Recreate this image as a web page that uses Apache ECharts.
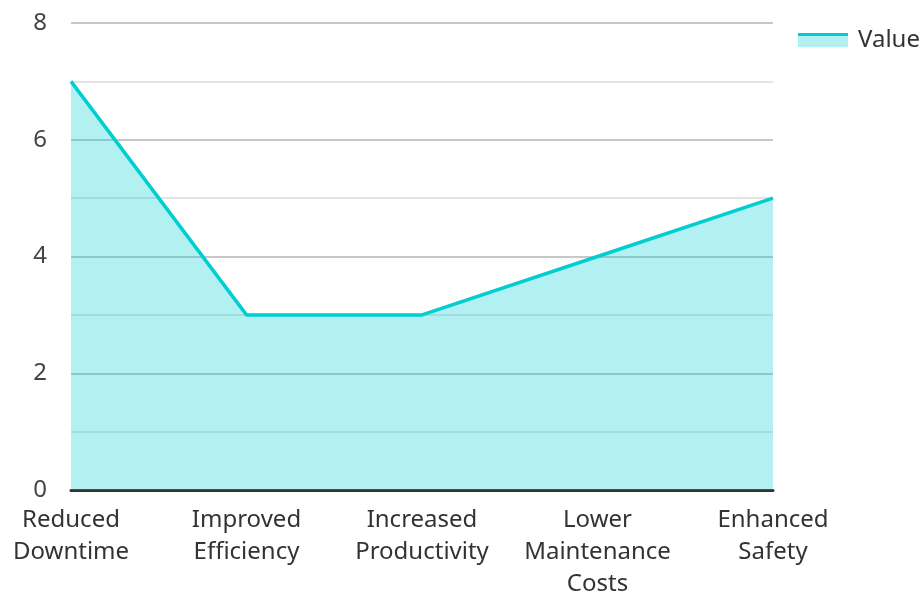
<!DOCTYPE html>
<html>
<head>
<meta charset="utf-8">
<script src="https://cdn.jsdelivr.net/npm/echarts@6/dist/echarts.min.js"></script>
<style>
  html, body { margin: 0; padding: 0; background: #fff; }
  #chart { width: 923px; height: 594px; }
</style>
</head>
<body>
<div id="chart"></div>
<script>
// categories and values
var categories = ['Reduced Downtime', 'Improved Efficiency', 'Increased Productivity', 'Lower Maintenance Costs', 'Enhanced Safety'];
var tickLabels = ['Reduced\nDowntime', 'Improved\nEfficiency', 'Increased\nProductivity', 'Lower\nMaintenance\nCosts', 'Enhanced\nSafety'];
var values = [7, 3, 3, 4, 5];
var yTicks = [0, 2, 4, 6, 8];

var lineColor = '#00CED1';
var font = 'Noto Sans';

var myChart = echarts.init(document.getElementById('chart'));
var option = {
    textStyle: { fontFamily: font },
    grid: { left: 71, right: 150, top: 23, bottom: 104, outerBoundsMode: 'none', containLabel: false },
    legend: {
        data: ['Value'],
        left: 793,
        top: 23,
        icon: 'rect',
        itemWidth: 50,
        itemHeight: 14,
        itemGap: 8,
        itemStyle: {
            // line on top, area fill under it
            color: new echarts.graphic.LinearGradient(0, 0, 0, 1, [
                { offset: 0, color: lineColor },
                { offset: 0.25, color: lineColor },
                { offset: 0.25, color: '#b2f0f1' },
                { offset: 1, color: '#b2f0f1' }
            ])
        },
        textStyle: { fontFamily: font, fontSize: 24, color: '#333', padding: [0, 0, 4, 5] }
    },
    xAxis: {
        type: 'category',
        data: categories,
        boundaryGap: false,
        axisLine: { lineStyle: { color: '#333', width: 3 } },
        axisTick: { show: false },
        axisLabel: {
            interval: 0,
            margin: 14,
            fontFamily: font,
            fontSize: 24,
            lineHeight: 32,
            color: '#333',
            formatter: function (v, i) { return tickLabels[i]; }
        }
    },
    yAxis: {
        type: 'value',
        min: 0,
        max: 8,
        interval: 1,
        axisLine: { show: false },
        axisTick: { show: false },
        axisLabel: {
            margin: 24,
            fontFamily: font,
            fontSize: 24,
            color: '#444',
            formatter: function (v) { return yTicks.indexOf(v) >= 0 ? String(v) : ''; }
        },
        splitLine: {
            lineStyle: { color: ['#c8c8c8', '#e4e4e4'], width: 2 }
        }
    },
    series: [{
        name: 'Value',
        type: 'line',
        data: values,
        symbol: 'none',
        lineStyle: { color: lineColor, width: 3.5 },
        itemStyle: { color: lineColor },
        areaStyle: { color: lineColor, opacity: 0.3 }
    }]
};
option && myChart.setOption(option);
</script>
</body>
</html>
